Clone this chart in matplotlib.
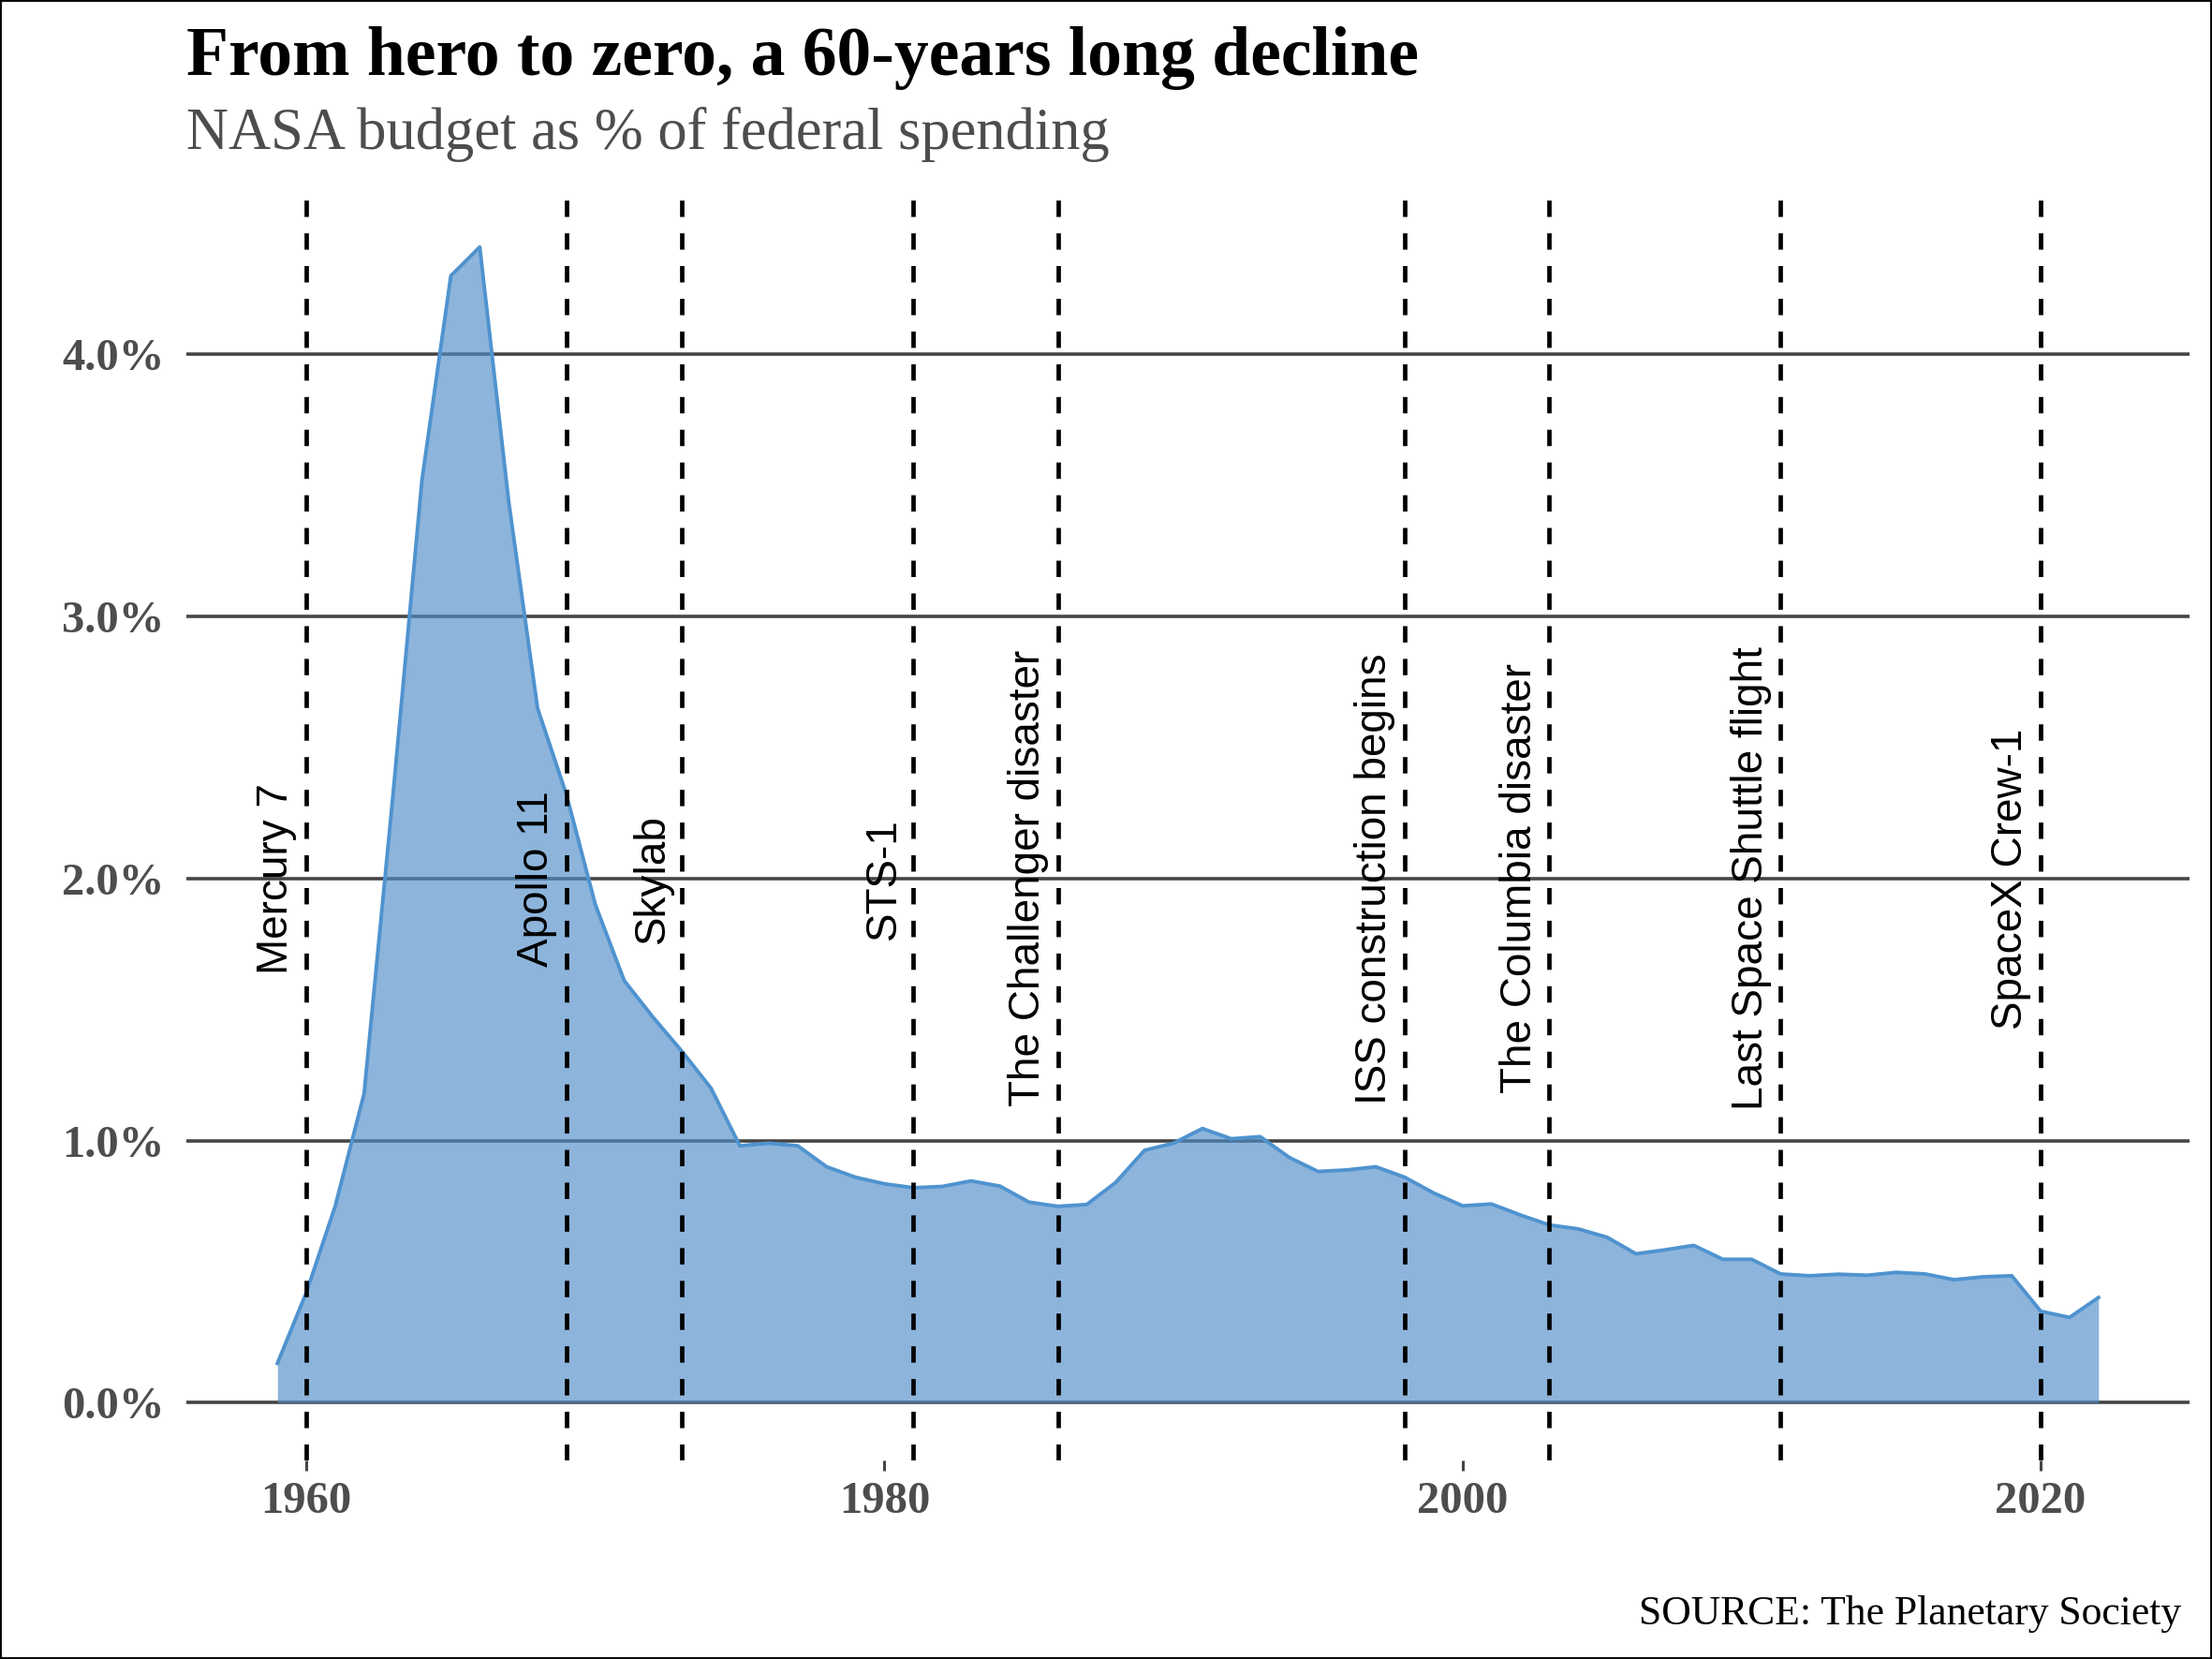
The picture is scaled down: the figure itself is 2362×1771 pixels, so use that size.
import matplotlib
matplotlib.use("Agg")
import matplotlib.pyplot as plt
from matplotlib.patches import Rectangle
from matplotlib.ticker import FuncFormatter
import numpy as np

# ---- data ----
years = list(range(1959, 2023))
budget_pct = [0.15, 0.42, 0.75, 1.18, 2.32, 3.52, 4.30, 4.41, 3.44, 2.65,
              2.32, 1.90, 1.61, 1.47, 1.34, 1.20, 0.98, 0.99, 0.98, 0.90,
              0.86, 0.835, 0.82, 0.825, 0.846, 0.826, 0.765, 0.749, 0.756, 0.84,
              0.963, 0.99, 1.046, 1.007, 1.015, 0.936, 0.882, 0.888, 0.90, 0.86,
              0.80, 0.751, 0.758, 0.716, 0.678, 0.663, 0.631, 0.568, 0.583, 0.60,
              0.547, 0.547, 0.491, 0.484, 0.49, 0.486, 0.497, 0.491, 0.469, 0.48,
              0.484, 0.349, 0.325, 0.401]
event_years = [1960, 1969, 1973, 1981, 1986, 1998, 2003, 2011, 2020]
event_labels = ["Mercury 7", "Apollo 11", "Skylab", "STS-1", "The Challenger disaster",
                "ISS construction begins", "The Columbia disaster",
                "Last Space Shuttle flight", "SpaceX Crew-1"]
label_y = 2.0
x_ticks = [1960, 1980, 2000, 2020]
y_ticks = [0, 1, 2, 3, 4]

SERIF = ["Liberation Serif", "DejaVu Serif"]
SANS = ["Liberation Sans", "DejaVu Sans"]
GRAY = "#4d4d4d"

W, H, DPI = 2362, 1771, 200
fig = plt.figure(figsize=(W / DPI, H / DPI), dpi=DPI, facecolor="white")
ax = fig.add_axes([199 / W, 1 - 1559 / H, (2338 - 199) / W, (1559 - 202) / H])
ax.set_facecolor("white")

x = np.array(years)
y = np.array(budget_pct)

# gridlines
ax.set_yticks(y_ticks)
ax.grid(axis="y", color="#454545", linewidth=1.3, zorder=0)
ax.grid(axis="x", visible=False)

ax.fill_between(x, 0, y, color="#508cc8", alpha=0.65, linewidth=0, zorder=2)
ax.plot(x, y, color="#4f93cf", linewidth=1.4, zorder=3)

for ev, lab in zip(event_years, event_labels):
    ax.axvline(ev, color="black", linewidth=1.7, linestyle=(0, (3.7, 3.7)), zorder=4)
    ax.annotate(lab, xy=(ev, label_y), xytext=(-3.5, 0), textcoords="offset points",
                rotation=90, ha="right", va="center", fontsize=16.5,
                family=SANS, color="black", zorder=5)

rng_x = max(years) - min(years)
ax.set_xlim(min(years) - 0.05 * rng_x, max(years) + 0.05 * rng_x)
ymax = max(budget_pct)
ax.set_ylim(-0.05 * ymax, ymax * 1.05)

ax.set_xticks(x_ticks)
ax.yaxis.set_major_formatter(FuncFormatter(lambda v, p: f"{v:.1f}%"))
for s in ax.spines.values():
    s.set_visible(False)
ax.tick_params(axis="x", length=4, width=1.1, color="#454545", pad=4)
ax.tick_params(axis="y", length=0, pad=8.5)
for lbl in ax.get_xticklabels() + ax.get_yticklabels():
    lbl.set_family(SERIF)
    lbl.set_fontweight("bold")
    lbl.set_fontsize(17.5)
    lbl.set_color(GRAY)

fig.text(199 / W, 1 - 80 / H, "From hero to zero, a 60-years long decline",
         family=SERIF, fontweight="bold", fontsize=26.5, color="black",
         ha="left", va="baseline")
fig.text(199 / W, 1 - 159 / H, "NASA budget as % of federal spending",
         family=SERIF, fontsize=22.5, color=GRAY, ha="left", va="baseline")
fig.text(2329 / W, 1 - 1734 / H, "SOURCE: The Planetary Society",
         family=SERIF, fontsize=15.7, color="black", ha="right", va="baseline")

fig.patches.append(Rectangle((0, 0), 1, 1, transform=fig.transFigure, fill=False,
                             edgecolor="black", linewidth=1.4, zorder=10))

fig.savefig("out.png", dpi=DPI, facecolor="white")
